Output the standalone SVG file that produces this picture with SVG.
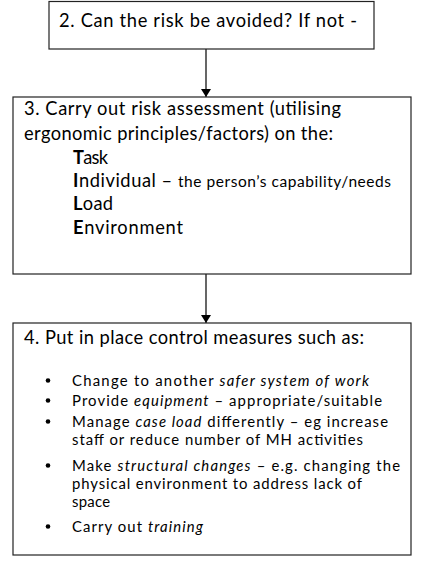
<svg xmlns="http://www.w3.org/2000/svg" width="429" height="567" viewBox="0 0 429 567">
<style>
.box{fill:#fff;stroke:#222;stroke-width:1.2}
.t{font-family:Lato,"Open Sans",sans-serif;fill:#000;font-size:18.3px}
.s{font-size:14.9px}
.sm{font-size:15.5px}
.b{font-weight:bold}
.i{font-style:italic}
.conn{stroke:#000;stroke-width:1.2;fill:none}
</style>
<defs>
<marker id="ah" viewBox="0 0 8 10" refX="8" refY="5" markerWidth="8" markerHeight="10" markerUnits="userSpaceOnUse" orient="auto">
<path d="M0,0 L8,5 L0,10 Z" fill="#000"/>
</marker>
</defs>
<rect width="429" height="567" fill="#fff"/>
<g id="connectors">
<line class="conn" x1="206" y1="49" x2="206" y2="97" marker-end="url(#ah)"/>
<line class="conn" x1="206" y1="274" x2="206" y2="323" marker-end="url(#ah)"/>
</g>
<g id="node-avoid">
<rect class="box" x="49" y="1.5" width="325" height="47.5"/>
<text class="t" x="59" y="27" textLength="298">2. Can the risk be avoided? If not -</text>
</g>
<g id="node-assess">
<rect class="box" x="13" y="97" width="398" height="177"/>
<text class="t" x="24" y="115" textLength="317">3. Carry out risk assessment (utilising</text>
<text class="t" x="24" y="140" textLength="309">ergonomic principles/factors) on the:</text>
<text class="t" x="73" y="164" textLength="35"><tspan class="b">T</tspan>ask</text>
<text class="t" x="73" y="187" textLength="318"><tspan class="b">I</tspan>ndividual – <tspan class="sm">the person’s capability/needs</tspan></text>
<text class="t" x="73" y="210" textLength="40"><tspan class="b">L</tspan>oad</text>
<text class="t" x="73" y="234" textLength="110"><tspan class="b">E</tspan>nvironment</text>
</g>
<g id="node-control">
<rect class="box" x="13" y="323" width="398" height="232"/>
<text class="t" x="24" y="344" textLength="340">4. Put in place control measures such as:</text>
<g class="t s">
<circle cx="48" cy="380.5" r="2.3"/>
<text x="72" y="386" textLength="297">Change to another <tspan class="i">safer system of work</tspan></text>
<circle cx="48" cy="400.5" r="2.3"/>
<text x="72" y="406" textLength="310">Provide <tspan class="i">equipment</tspan> – appropriate/suitable</text>
<circle cx="48" cy="421.5" r="2.3"/>
<text x="72" y="427" textLength="316">Manage <tspan class="i">case load</tspan> differently – eg increase</text>
<text x="72" y="445" textLength="291">staff or reduce number of MH activities</text>
<circle cx="48" cy="465.5" r="2.3"/>
<text x="72" y="471" textLength="328">Make <tspan class="i">structural changes</tspan> – e.g. changing the</text>
<text x="72" y="489" textLength="290">physical environment to address lack of</text>
<text x="72" y="507" textLength="38">space</text>
<circle cx="48" cy="526.5" r="2.3"/>
<text x="72" y="532" textLength="131">Carry out <tspan class="i">training</tspan></text>
</g>
</g>
</svg>
